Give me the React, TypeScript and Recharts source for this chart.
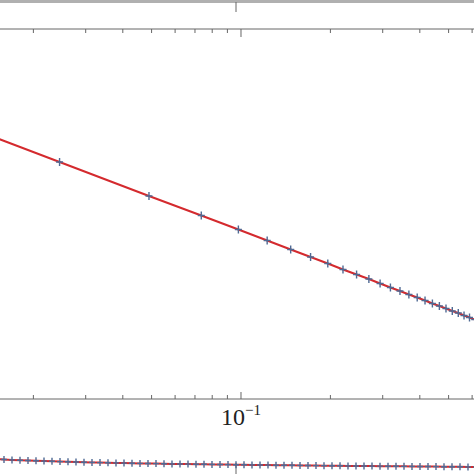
import { LineChart, Line, XAxis, YAxis, ReferenceLine } from "recharts"

// main panel: log x axis
const MAIN_X = [0.01, 0.0245, 0.049, 0.0735, 0.098, 0.1225, 0.147, 0.1715, 0.196, 0.2205, 0.245, 0.2695, 0.294, 0.3185, 0.343, 0.3675, 0.392, 0.4165, 0.441, 0.4655, 0.49, 0.5145, 0.539, 0.5635, 0.588, 0.6125]
const MAIN_Y = [2.81, 2.37, 2.03, 1.835, 1.695, 1.585, 1.495, 1.42, 1.355, 1.295, 1.245, 1.2, 1.155, 1.115, 1.08, 1.045, 1.015, 0.985, 0.955, 0.93, 0.905, 0.88, 0.86, 0.835, 0.815, 0.795]
const MAIN_MINOR = [0.02, 0.03, 0.04, 0.05, 0.06, 0.07, 0.08, 0.09, 0.2, 0.3, 0.4, 0.5, 0.6]
const MAIN_MAJOR = [0.1]
const MAIN_TICKS = [...MAIN_MINOR, ...MAIN_MAJOR].sort((a, b) => a - b)

// lower panel: evenly spaced samples
const LOW_K = Array.from({ length: 61 }, (_, i) => i)
const LOW_Y = [14.9, 14.5, 14.1, 13.8, 13.5, 13.2, 12.9, 12.7, 12.4, 12.2, 12.0, 11.8, 11.6, 11.4, 11.2, 11.1, 10.9, 10.8, 10.6, 10.5, 10.4, 10.2, 10.1, 10.0, 9.9, 9.8, 9.7, 9.6, 9.5, 9.4, 9.3, 9.2, 9.1, 9.0, 8.9, 8.8, 8.75, 8.7, 8.6, 8.5, 8.4, 8.35, 8.3, 8.2, 8.1, 8.05, 8.0, 7.9, 7.85, 7.8, 7.7, 7.65, 7.6, 7.5, 7.45, 7.4, 7.3, 7.25, 7.2, 7.1, 7.05]

const RED = "#d42a2e"
const MARK = "#4f6a94"
const AXIS = "#666"
const LOG_DOMAIN = [0.015439, 0.60883]

const mainData = MAIN_X.map((x, i) => ({ x, y: MAIN_Y[i] }))
const lowData = LOW_K.map((k, i) => ({ k, y: LOW_Y[i] }))

const plus = (w: number, h: number) => (p: any) => {
  const { cx, cy, index } = p
  if (cx == null || cy == null) return <g key={index} />
  return (
    <path
      key={index}
      d={`M${cx - w},${cy}h${2 * w}M${cx},${cy - h}v${2 * h}`}
      stroke={MARK}
      strokeWidth={1.4}
      fill="none"
    />
  )
}

const BottomTick = (p: any) => {
  const { x, y, payload } = p
  const major = MAIN_MAJOR.includes(payload.value)
  return (
    <g>
      <line x1={x} x2={x} y1={y} y2={y - (major ? 7 : 4)} stroke={AXIS} />
      {major && (
        <text x={x} y={y + 26} textAnchor="middle" fontFamily="Liberation Serif" fontSize={24} fill="#222">
          10
          <tspan dy={-10} fontSize={15}>−1</tspan>
        </text>
      )}
    </g>
  )
}

const TopTick = (p: any) => {
  const { x, y, payload } = p
  const major = MAIN_MAJOR.includes(payload.value)
  return <line x1={x} x2={x} y1={y} y2={y + (major ? 8 : 4)} stroke={AXIS} />
}

export default function App() {
  return (
    <div style={{ position: "fixed", left: 0, top: 0, width: 474, height: 474, overflow: "hidden", background: "#fff" }}>
      {/* strip of the panel above */}
      <div style={{ position: "absolute", left: 0, top: 0 }}>
        <LineChart width={474} height={14} data={lowData} margin={{ top: 0, right: 0, bottom: 0, left: 0 }}>
          <XAxis dataKey="k" type="number" domain={[0.5, 59.75]} allowDataOverflow hide />
          <YAxis domain={[0, 14]} allowDataOverflow hide />
          <ReferenceLine y={12.5} stroke="#b0b0b0" strokeWidth={3} ifOverflow="visible" />
          <ReferenceLine segment={[{ x: 30, y: 12 }, { x: 30, y: 2 }]} stroke={AXIS} strokeWidth={1} ifOverflow="visible" />
        </LineChart>
      </div>

      {/* main panel */}
      <div style={{ position: "absolute", left: 0, top: 0 }}>
        <LineChart width={474} height={474} data={mainData} margin={{ top: 28, right: 0, bottom: 0, left: 0 }}>
          <XAxis
            xAxisId="bottom"
            dataKey="x"
            type="number"
            scale="log"
            domain={LOG_DOMAIN}
            allowDataOverflow
            ticks={MAIN_TICKS}
            interval={0}
            height={75}
            tickSize={0}
            tickMargin={0}
            tickLine={false}
            tick={BottomTick}
            axisLine={{ stroke: AXIS }}
          />
          <XAxis
            xAxisId="top"
            orientation="top"
            dataKey="x"
            type="number"
            scale="log"
            domain={LOG_DOMAIN}
            allowDataOverflow
            ticks={MAIN_TICKS}
            interval={0}
            height={1}
            tickSize={0}
            tickMargin={0}
            tickLine={false}
            tick={TopTick}
            axisLine={{ stroke: AXIS }}
          />
          <YAxis domain={[0, 3.7]} allowDataOverflow hide />
          <Line xAxisId="top" dataKey="y" stroke="none" dot={plus(3.5, 4)} activeDot={false} isAnimationActive={false} />
          <Line xAxisId="bottom" dataKey="y" stroke={RED} strokeWidth={2} dot={false} activeDot={false} isAnimationActive={false} />
        </LineChart>
      </div>

      {/* panel below */}
      <div style={{ position: "absolute", left: 0, top: 440 }}>
        <LineChart width={474} height={34} data={lowData} margin={{ top: 0, right: 0, bottom: 0, left: 0 }}>
          <XAxis dataKey="k" type="number" domain={[0.5, 59.75]} allowDataOverflow hide />
          <YAxis domain={[0, 34]} allowDataOverflow hide />
          <Line dataKey="y" stroke="none" dot={plus(3, 3.5)} activeDot={false} isAnimationActive={false} />
          <Line dataKey="y" stroke={RED} strokeWidth={2} dot={false} activeDot={false} isAnimationActive={false} />
          <ReferenceLine segment={[{ x: 30, y: 11 }, { x: 30, y: 0 }]} stroke={AXIS} strokeWidth={1} ifOverflow="visible" />
        </LineChart>
      </div>
    </div>
  )
}
